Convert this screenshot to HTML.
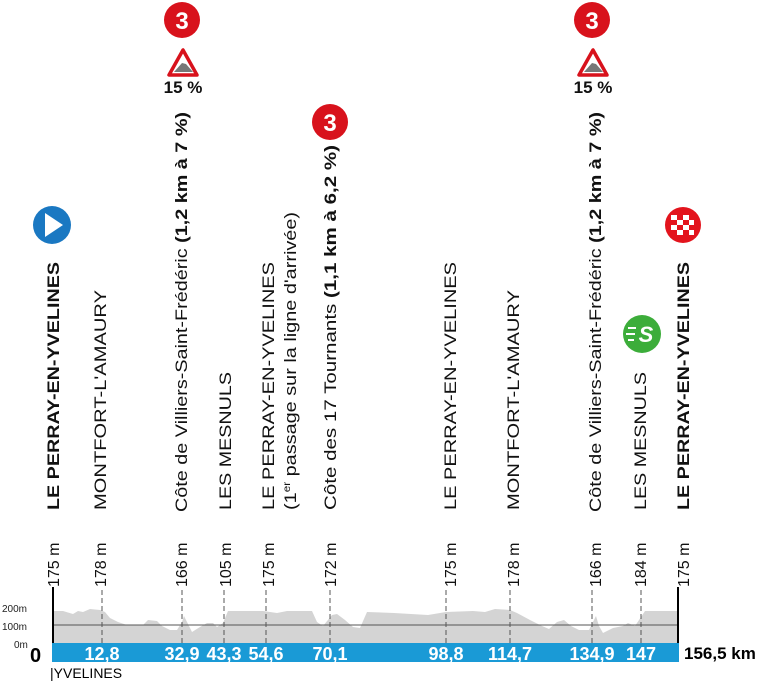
<!DOCTYPE html>
<html><head><meta charset="utf-8"><style>
html,body{margin:0;padding:0;background:#fff;}
svg{display:block;font-family:"Liberation Sans",sans-serif;}
</style></head><body>
<svg width="768" height="684" viewBox="0 0 768 684" xmlns="http://www.w3.org/2000/svg">
<polygon fill="#d4d4d4" points="52,643 52,611 63,611 73,614 78,611 83,612 90,609 100,610 105,612 110,618 118,622 127,625 143,625 148,620 157,621 162,626 170,630 177,630 182,622 184,616 187,622 192,632 200,627 207,623 213,623 217,627 223,623 228,611 263,611 277,613 287,611 312,611 317,622 323,626 332,615 337,614 345,620 353,627 360,628 367,612 394,613 428,615 446,612 473,611 485,612 495,609 510,610 517,613 530,620 542,626 549,629 557,622 564,620 571,626 579,630 589,630 596,616 599,626 603,633 613,628 623,626 628,623 635,626 645,611 679,611 679,643"/>
<line x1="53" y1="625" x2="679" y2="625" stroke="#555" stroke-width="1"/>
<g stroke="#555" stroke-width="1" stroke-dasharray="5,3">
<line x1="102" y1="590" x2="102" y2="643"/><line x1="182" y1="590" x2="182" y2="643"/>
<line x1="224" y1="590" x2="224" y2="643"/><line x1="266" y1="590" x2="266" y2="643"/>
<line x1="330" y1="590" x2="330" y2="643"/><line x1="446" y1="590" x2="446" y2="643"/>
<line x1="510" y1="590" x2="510" y2="643"/><line x1="592" y1="590" x2="592" y2="643"/>
<line x1="641" y1="590" x2="641" y2="643"/>
</g>
<line x1="53" y1="587" x2="53" y2="662" stroke="#000" stroke-width="2"/>
<line x1="678" y1="587" x2="678" y2="662" stroke="#000" stroke-width="2"/>
<rect x="52" y="643" width="627" height="19" fill="#1a9ad6"/>
<g fill="#fff" font-weight="bold" font-size="18" text-anchor="middle">
<text x="102" y="660">12,8</text><text x="182" y="660">32,9</text><text x="224" y="660">43,3</text>
<text x="266" y="660">54,6</text><text x="330" y="660">70,1</text><text x="446" y="660">98,8</text>
<text x="510" y="660">114,7</text><text x="592" y="660">134,9</text><text x="641" y="660">147</text>
</g>
<g font-size="10" fill="#222">
<text x="2" y="612">200m</text><text x="2" y="630">100m</text><text x="14" y="648">0m</text>
</g>
<text x="30" y="662" font-size="20" font-weight="bold">0</text>
<text x="684" y="659" font-size="17" font-weight="bold">156,5 km</text>
<text x="50" y="678" font-size="14">|YVELINES</text>

<g font-size="17" fill="#111">
<g transform="translate(59,0) rotate(-90)"><text x="-587" y="0" font-size="16">175 m</text><text x="-510" y="0" font-weight="bold" textLength="248" lengthAdjust="spacingAndGlyphs">LE PERRAY-EN-YVELINES</text></g>
<g transform="translate(106,0) rotate(-90)"><text x="-587" y="0" font-size="16">178 m</text><text x="-510" y="0" textLength="220" lengthAdjust="spacingAndGlyphs">MONTFORT-L'AMAURY</text></g>
<g transform="translate(187,0) rotate(-90)"><text x="-587" y="0" font-size="16">166 m</text><text x="-512" y="0" textLength="400" lengthAdjust="spacingAndGlyphs">Côte de Villiers-Saint-Frédéric <tspan font-weight="bold">(1,2 km à 7 %)</tspan></text></g>
<g transform="translate(231,0) rotate(-90)"><text x="-587" y="0" font-size="16">105 m</text><text x="-510" y="0" textLength="138" lengthAdjust="spacingAndGlyphs">LES MESNULS</text></g>
<g transform="translate(274,0) rotate(-90)"><text x="-587" y="0" font-size="16">175 m</text><text x="-510" y="0" textLength="248" lengthAdjust="spacingAndGlyphs">LE PERRAY-EN-YVELINES</text><text x="-510" y="22" textLength="298" lengthAdjust="spacingAndGlyphs">(1<tspan font-size="10" dy="-6">er</tspan><tspan dy="6"> passage sur la ligne d'arrivée)</tspan></text></g>
<g transform="translate(336,0) rotate(-90)"><text x="-587" y="0" font-size="16">172 m</text><text x="-510" y="0" textLength="365" lengthAdjust="spacingAndGlyphs">Côte des 17 Tournants  <tspan font-weight="bold">(1,1 km à 6,2 %)</tspan></text></g>
<g transform="translate(456,0) rotate(-90)"><text x="-587" y="0" font-size="16">175 m</text><text x="-510" y="0" textLength="248" lengthAdjust="spacingAndGlyphs">LE PERRAY-EN-YVELINES</text></g>
<g transform="translate(519,0) rotate(-90)"><text x="-587" y="0" font-size="16">178 m</text><text x="-510" y="0" textLength="220" lengthAdjust="spacingAndGlyphs">MONTFORT-L'AMAURY</text></g>
<g transform="translate(601,0) rotate(-90)"><text x="-587" y="0" font-size="16">166 m</text><text x="-512" y="0" textLength="400" lengthAdjust="spacingAndGlyphs">Côte de Villiers-Saint-Frédéric <tspan font-weight="bold">(1,2 km à 7 %)</tspan></text></g>
<g transform="translate(646,0) rotate(-90)"><text x="-587" y="0" font-size="16">184 m</text><text x="-510" y="0" textLength="138" lengthAdjust="spacingAndGlyphs">LES MESNULS</text></g>
<g transform="translate(689,0) rotate(-90)"><text x="-587" y="0" font-size="16">175 m</text><text x="-510" y="0" font-weight="bold" textLength="248" lengthAdjust="spacingAndGlyphs">LE PERRAY-EN-YVELINES</text></g>
</g>

<g font-weight="bold" font-size="24" text-anchor="middle" fill="#fff">
<circle cx="182" cy="20" r="18" fill="#d8121c"/><text x="182" y="29">3</text>
<circle cx="592" cy="20" r="18" fill="#d8121c"/><text x="592" y="29">3</text>
<circle cx="330" cy="122" r="18" fill="#d8121c"/><text x="330" y="131">3</text>
</g>
<g>
<polygon points="183,50 169,75 197,75" fill="#fff" stroke="#d8121c" stroke-width="3.5" stroke-linejoin="round"/>
<polygon points="174,72 182,63 186,64 193,72" fill="#777"/>
<polygon points="593,50 579,75 607,75" fill="#fff" stroke="#d8121c" stroke-width="3.5" stroke-linejoin="round"/>
<polygon points="584,72 592,63 596,64 603,72" fill="#777"/>
</g>
<g font-weight="bold" font-size="17" text-anchor="middle" fill="#111">
<text x="183" y="93">15 %</text><text x="593" y="93">15 %</text>
</g>
<circle cx="52" cy="225" r="19" fill="#1a78c2"/>
<polygon points="45,213 45,237 63,225" fill="#fff"/>
<circle cx="683" cy="225" r="18" fill="#e3141d"/>
<g fill="#fff">
<rect x="671" y="215" width="6" height="5"/><rect x="683" y="215" width="6" height="5"/>
<rect x="677" y="220" width="6" height="5"/><rect x="689" y="220" width="5" height="5"/>
<rect x="671" y="225" width="6" height="5"/><rect x="683" y="225" width="6" height="5"/>
<rect x="677" y="230" width="6" height="5"/><rect x="689" y="230" width="5" height="5"/>
</g>
<circle cx="642" cy="334" r="19" fill="#3cad3a"/>
<text x="646" y="342" font-size="22" font-weight="bold" font-style="italic" fill="#fff" text-anchor="middle">S</text>
<g stroke="#fff" stroke-width="2"><line x1="628" y1="328" x2="636" y2="328"/><line x1="626" y1="334" x2="635" y2="334"/><line x1="628" y1="340" x2="634" y2="340"/></g>
</svg>
</body></html>
